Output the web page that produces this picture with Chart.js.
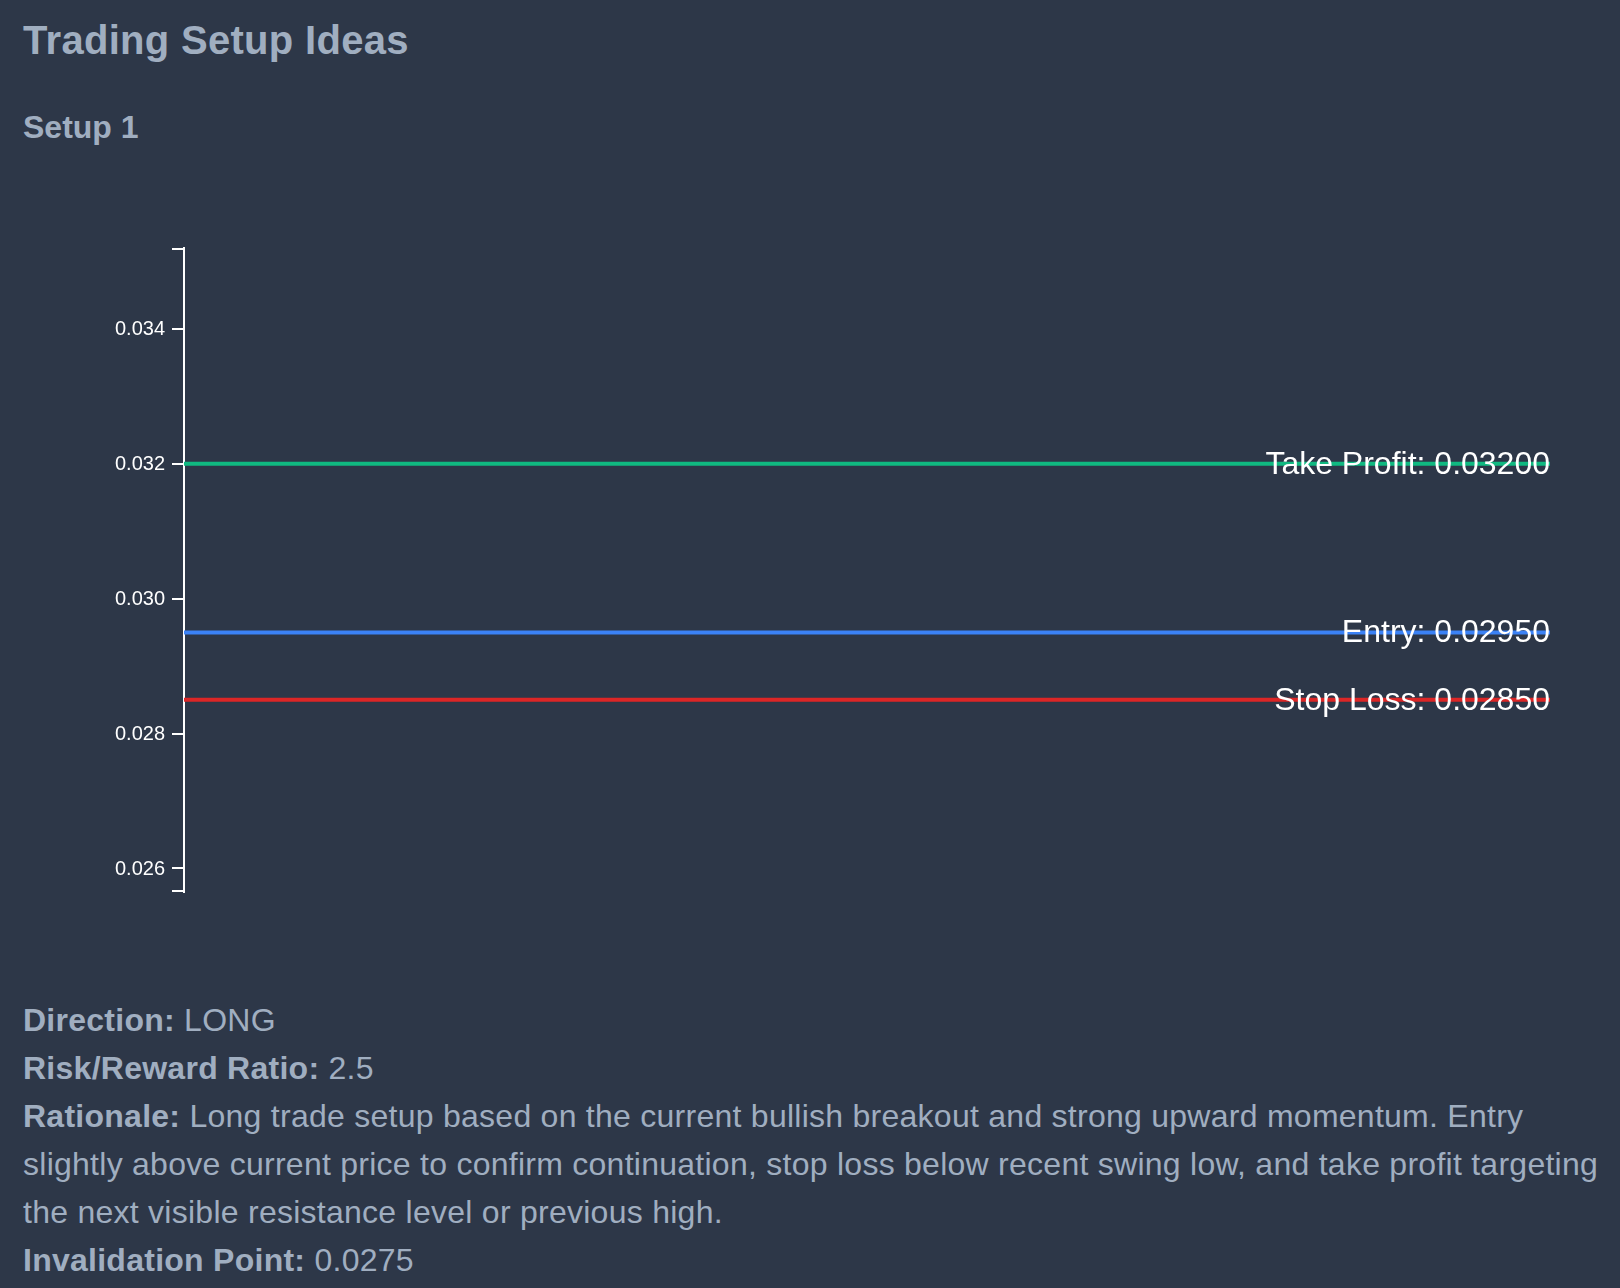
<!DOCTYPE html>
<html>
<head>
<meta charset="utf-8">
<script src="https://cdn.jsdelivr.net/npm/chart.js@4.4.1/dist/chart.umd.min.js"></script>
<style>
  html, body { margin: 0; padding: 0; background: #2d3748; width: 1620px; height: 1288px; overflow: hidden; }
  body { position: relative; font-family: "Liberation Sans", Arial, Helvetica, sans-serif; color: #a0aec0; }
  #title { position: absolute; left: 23px; top: 19.5px; margin: 0; font-size: 40px; line-height: 40px; font-weight: bold; white-space: nowrap; letter-spacing: 0.3px; }
  #setup { position: absolute; left: 23px; top: 111px; margin: 0; font-size: 32px; line-height: 32px; font-weight: bold; white-space: nowrap; }
  #chartWrap { position: absolute; left: 0; top: 0; width: 1620px; height: 960px; }
  #info { position: absolute; left: 23px; top: 995.5px; width: 1593px; font-size: 32px; line-height: 48px; letter-spacing: 0.26px; }
  #info p { margin: 0; }
  #info b { font-weight: bold; }
</style>
</head>
<body>
<h2 id="title">Trading Setup Ideas</h2>
<h3 id="setup">Setup 1</h3>
<div id="chartWrap"><canvas id="chart"></canvas></div>
<div id="info">
  <p><b>Direction:</b> LONG</p>
  <p><b>Risk/Reward Ratio:</b> 2.5</p>
  <p><b>Rationale:</b> Long trade setup based on the current bullish breakout and strong upward momentum. Entry slightly above current price to confirm continuation, stop loss below recent swing low, and take profit targeting the next visible resistance level or previous high.</p>
  <p><b>Invalidation Point:</b> 0.0275</p>
</div>
<script>
// ---- data ----
const levelNames = ['Take Profit', 'Entry', 'Stop Loss'];
const levelValues = [0.032, 0.0295, 0.0285];
const levelColors = ['#10b981', '#3b82f6', '#dc2626'];
const yTickValues = [0.026, 0.028, 0.030, 0.032, 0.034];
const yTickLabels = ['0.026', '0.028', '0.030', '0.032', '0.034'];
const yMin = 0.02565;   // stop loss * 0.9
const yMax = 0.0352;    // take profit * 1.1
const xDomain = [0, 1];

const datasets = levelNames.map((name, i) => ({
  label: name,
  data: xDomain.map(x => ({ x: x, y: levelValues[i] })),
  borderColor: levelColors[i],
  backgroundColor: levelColors[i],
  borderWidth: 4,
  pointRadius: 0,
  pointHoverRadius: 0,
  fill: false,
  tension: 0
}));

const outerTicks = {
  id: 'outerTicks',
  afterDraw(chart) {
    const s = chart.scales.y;
    const ctx = chart.ctx;
    const len = s.options.grid.tickLength;
    ctx.save();
    ctx.strokeStyle = '#ffffff';
    ctx.lineWidth = 2;
    ctx.beginPath();
    ctx.moveTo(s.right - len, s.top + 1);
    ctx.lineTo(s.right, s.top + 1);
    ctx.moveTo(s.right - len, s.bottom - 1);
    ctx.lineTo(s.right, s.bottom - 1);
    ctx.stroke();
    ctx.restore();
  }
};

const levelLabels = {
  id: 'levelLabels',
  afterDatasetsDraw(chart) {
    const ctx = chart.ctx;
    const y = chart.scales.y;
    const x = chart.scales.x;
    ctx.save();
    ctx.font = '32px "Liberation Sans", Arial, Helvetica, sans-serif';
    ctx.fillStyle = '#ffffff';
    ctx.textAlign = 'right';
    ctx.textBaseline = 'middle';
    levelNames.forEach((name, i) => {
      ctx.fillText(name + ': ' + levelValues[i].toFixed(5), x.getPixelForValue(xDomain[1]), y.getPixelForValue(levelValues[i]) + 1);
    });
    ctx.restore();
  }
};

new Chart(document.getElementById('chart'), {
  type: 'line',
  data: { datasets: datasets },
  plugins: [outerTicks, levelLabels],
  options: {
    responsive: true,
    maintainAspectRatio: false,
    animation: false,
    events: [],
    layout: { padding: { top: 248, bottom: 68, right: 70, left: 0 } },
    plugins: { legend: { display: false }, tooltip: { enabled: false }, title: { display: false } },
    scales: {
      x: { type: 'linear', display: false, min: xDomain[0], max: xDomain[1] },
      y: {
        type: 'linear',
        min: yMin,
        max: yMax,
        afterFit(scale) { scale.width = 184; },
        afterBuildTicks(scale) { scale.ticks = yTickValues.map(v => ({ value: v })); },
        grid: { display: true, drawOnChartArea: false, drawTicks: true, tickLength: 12, color: '#ffffff', lineWidth: 2 },
        border: { display: true, color: '#ffffff', width: 2 },
        ticks: {
          color: '#ffffff',
          padding: 7,
          labelOffset: 1,
          font: { size: 20, family: '"Liberation Sans", Arial, Helvetica, sans-serif' },
          callback: (v) => { const i = yTickValues.findIndex(t => Math.abs(t - v) < 1e-9); return i >= 0 ? yTickLabels[i] : ''; }
        }
      }
    }
  }
});
</script>
</body>
</html>
